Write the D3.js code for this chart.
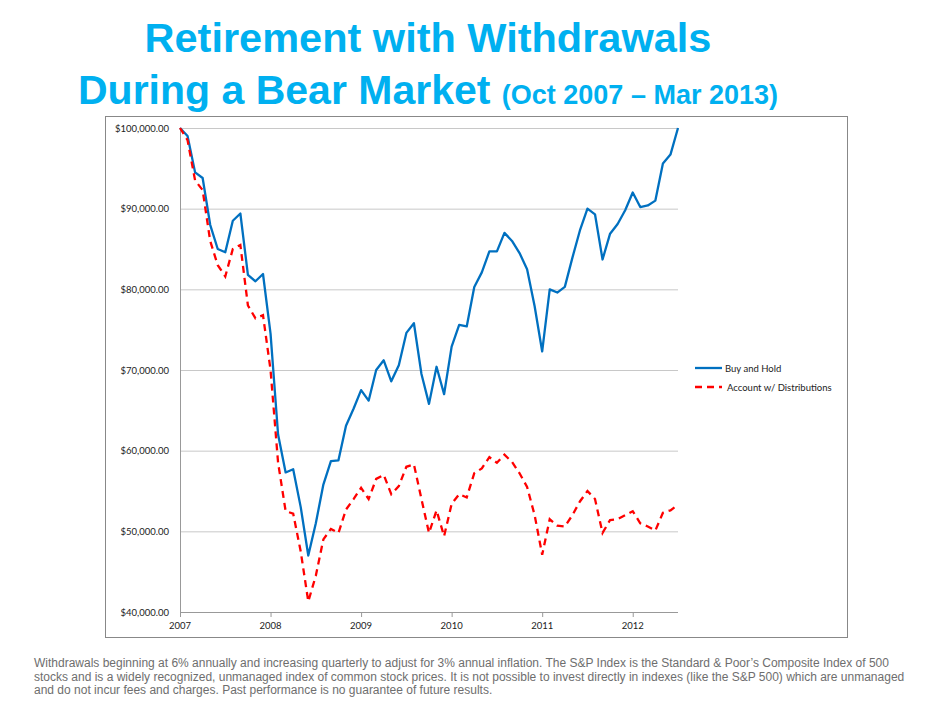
<!DOCTYPE html>
<html><head><meta charset="utf-8">
<script src="https://cdn.jsdelivr.net/npm/d3@7"></script>
<style>body{margin:0;background:#fff;font-family:Arial,"Liberation Sans",sans-serif}</style>
</head><body>
<svg id="c" width="937" height="702"></svg>
<script>
const buyHold = [100000,99000,94500,93800,88000,85000,84600,88500,89400,81800,81000,81900,74500,62000,57300,57700,53000,47000,51000,55800,58700,58800,63100,65200,67500,66200,70000,71200,68600,70600,74600,75800,69500,65800,70400,67000,72900,75600,75400,80300,82100,84700,84700,87000,86000,84500,82500,77900,72300,80000,79600,80300,83900,87300,90000,89300,83700,86900,88100,89800,92000,90200,90400,91000,95600,96700,100000];
const withDist = [100000,98500,93500,92300,86000,83000,81600,85000,85500,78000,76400,76800,70000,58500,52500,52200,47500,41300,44500,49000,50300,49800,52700,54000,55400,54000,56500,57000,54600,55600,58000,58300,54000,49800,52600,49400,53400,54600,54200,57200,57800,59200,58500,59500,58600,57200,55500,52000,47100,51500,50700,50600,52000,53700,55000,54000,49800,51400,51500,52000,52500,51000,50600,50100,52300,52600,53300];
const yearLabels = ["2007","2008","2009","2010","2011","2012"];
const yTicks = [40000,50000,60000,70000,80000,90000,100000];
const seriesNames = ["Buy and Hold","Account w/ Distributions"];

const svg = d3.select("#c");
const L=180,R=678,T=128,B=612;
const x = d3.scaleLinear().domain([0,buyHold.length-1]).range([L,R]);
const y = d3.scaleLinear().domain([40000,100000]).range([B,T]);

// title
const t = svg.append("g").attr("fill","#00B0F0").attr("font-weight","bold").attr("font-family","Arial, Liberation Sans, sans-serif");
t.append("text").attr("x",428).attr("y",52).attr("text-anchor","middle").attr("font-size",41.5).text("Retirement with Withdrawals");
const t2 = t.append("text").attr("x",428).attr("y",104).attr("text-anchor","middle").attr("font-size",41);
t2.append("tspan").text("During a Bear Market ");
t2.append("tspan").attr("font-size",27).text("(Oct 2007 – Mar 2013)");

// chart box
svg.append("rect").attr("x",105.5).attr("y",116.5).attr("width",742).attr("height",521).attr("fill","none").attr("stroke","#888");

// grid
svg.append("g").selectAll("line").data(yTicks).join("line")
 .attr("x1",L).attr("x2",R).attr("y1",d=>y(d)+.5).attr("y2",d=>y(d)+.5).attr("stroke","#c8c8c8");
svg.append("g").selectAll("text").data(yTicks).join("text")
 .attr("x",L-11).attr("y",d=>y(d)+3.5).attr("text-anchor","end").attr("font-size",9.5).attr("fill","#222")
 .attr("font-family","Lato, Carlito, sans-serif")
 .text(d=>"$"+d3.format(",.2f")(d));
svg.append("line").attr("x1",L+.5).attr("x2",L+.5).attr("y1",T).attr("y2",B).attr("stroke","#999");
svg.append("line").attr("x1",L).attr("x2",R).attr("y1",B+.5).attr("y2",B+.5).attr("stroke","#999");
const xt = svg.append("g");
yearLabels.forEach((lab,i)=>{
  const xx = x(i*12);
  xt.append("line").attr("x1",xx+.5).attr("x2",xx+.5).attr("y1",B).attr("y2",B+5).attr("stroke","#999");
  xt.append("text").attr("x",xx).attr("y",B+17).attr("text-anchor","middle").attr("font-size",9.5)
    .attr("font-family","Lato, Carlito, sans-serif").attr("fill","#222").text(lab);
});

const line = d3.line().x((d,i)=>x(i)).y(d=>y(d));
svg.append("path").datum(buyHold).attr("d",line).attr("fill","none").attr("stroke","#0070C0").attr("stroke-width",2.3).attr("stroke-linejoin","round");
svg.append("path").datum(withDist).attr("d",line).attr("fill","none").attr("stroke","#FF0000").attr("stroke-width",2.3).attr("stroke-dasharray","7,5");

// legend
const lg = svg.append("g").attr("font-family","Lato, Carlito, sans-serif").attr("font-size",9.5).attr("fill","#222");
[["#0070C0",null],["#FF0000","7,5"]].forEach((s,i)=>{
  const yy = 368 + i*19;
  lg.append("line").attr("x1",695).attr("x2",722).attr("y1",yy).attr("y2",yy).attr("stroke",s[0]).attr("stroke-width",2.3).attr("stroke-dasharray",s[1]);
  lg.append("text").attr("x",i? 727:725).attr("y",yy+3.5).text(seriesNames[i]);
});

// footnote
const fn = svg.append("text").attr("font-size",12).attr("fill","#6e6e6e").attr("font-family","Arial, Liberation Sans, sans-serif");
["Withdrawals beginning at 6% annually and increasing quarterly to adjust for 3% annual inflation. The S&P Index is the Standard & Poor’s Composite Index of 500",
 "stocks and is a widely recognized, unmanaged index of common stock prices. It is not possible to invest directly in indexes (like the S&P 500) which are unmanaged",
 "and do not incur fees and charges. Past performance is no guarantee of  future results."].forEach((s,i)=>{
  fn.append("tspan").attr("x",34).attr("y",667+i*13.5).text(s);
});
</script>
</body></html>
